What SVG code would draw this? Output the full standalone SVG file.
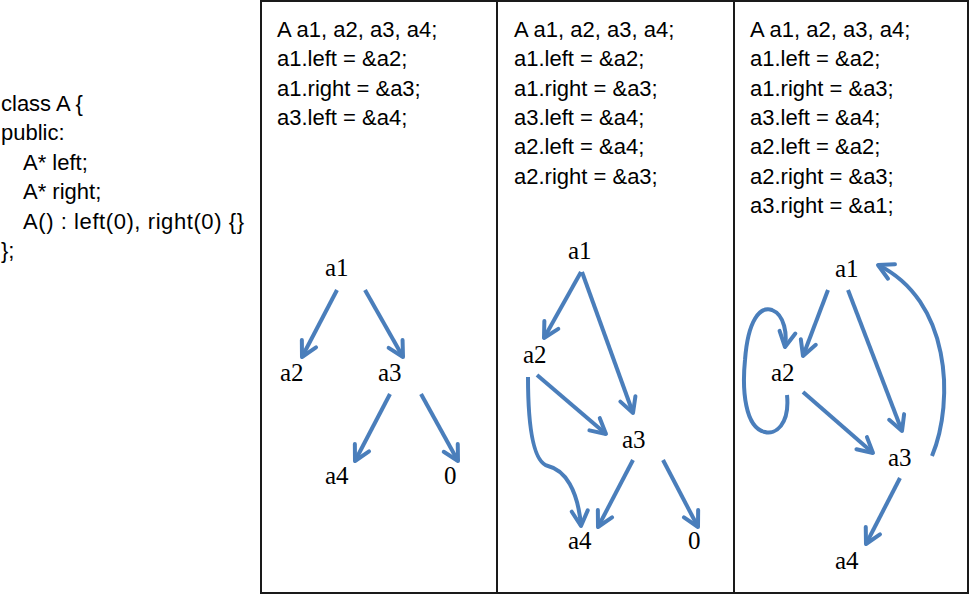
<svg xmlns="http://www.w3.org/2000/svg" width="969" height="594" viewBox="0 0 969 594">
<style>
.code{font-family:"Liberation Sans",Arial,sans-serif;font-size:22px;fill:#000}
.lbl{font-family:"Liberation Serif","Times New Roman",serif;font-size:25px;fill:#000}
.box{fill:none;stroke:#1a1a1a;stroke-width:2}
.c{fill:none;stroke:#4a7ebb;stroke-width:4;marker-end:url(#ah)}
</style>
<defs>
<marker id="ah" markerUnits="userSpaceOnUse" markerWidth="26" markerHeight="26" viewBox="-4 -4 26 26" refX="15" refY="8" orient="auto">
<path d="M0,0 L15,8 L0,16" fill="none" stroke="#4a7ebb" stroke-width="4" stroke-linejoin="round" stroke-linecap="round"/>
</marker>
</defs>
<rect width="969" height="594" fill="#fff"/>
<g id="classdef" class="code">
<text x="1" y="111">class A {</text>
<text x="1" y="140">public:</text>
<text x="23" y="170">A* left;</text>
<text x="23" y="199">A* right;</text>
<text x="23" y="229" textLength="221" lengthAdjust="spacing">A() : left(0), right(0) {}</text>
<text x="1" y="258">};</text>
</g>
<g id="panel1">
<rect class="box" x="261" y="1" width="236" height="592"/>
<g class="code">
<text x="277" y="37">A a1, a2, a3, a4;</text>
<text x="277" y="66">a1.left = &amp;a2;</text>
<text x="277" y="96">a1.right = &amp;a3;</text>
<text x="277" y="125">a3.left = &amp;a4;</text>
</g>
</g>
<g id="panel2">
<rect class="box" x="497" y="1" width="237" height="592"/>
<g class="code">
<text x="514" y="37">A a1, a2, a3, a4;</text>
<text x="514" y="66">a1.left = &amp;a2;</text>
<text x="514" y="96">a1.right = &amp;a3;</text>
<text x="514" y="125">a3.left = &amp;a4;</text>
<text x="514" y="154">a2.left = &amp;a4;</text>
<text x="514" y="184">a2.right = &amp;a3;</text>
</g>
</g>
<g id="panel3">
<rect class="box" x="734" y="1" width="234" height="592"/>
<g class="code">
<text x="750" y="37">A a1, a2, a3, a4;</text>
<text x="750" y="66">a1.left = &amp;a2;</text>
<text x="750" y="96">a1.right = &amp;a3;</text>
<text x="750" y="125">a3.left = &amp;a4;</text>
<text x="750" y="154">a2.left = &amp;a2;</text>
<text x="750" y="184">a2.right = &amp;a3;</text>
<text x="750" y="213">a3.right = &amp;a1;</text>
</g>
</g>
<g id="p1-a1" class="lbl"><text x="325" y="276">a1</text></g>
<g id="p1-a2" class="lbl"><text x="280" y="381">a2</text></g>
<g id="p1-a3" class="lbl"><text x="378" y="381">a3</text></g>
<g id="p1-a4" class="lbl"><text x="325" y="484">a4</text></g>
<g id="p1-0" class="lbl"><text x="444" y="484">0</text></g>
<g id="p2-a1" class="lbl"><text x="568" y="259">a1</text></g>
<g id="p2-a2" class="lbl"><text x="523" y="363">a2</text></g>
<g id="p2-a3" class="lbl"><text x="622" y="448">a3</text></g>
<g id="p2-a4" class="lbl"><text x="568" y="549">a4</text></g>
<g id="p2-0" class="lbl"><text x="688" y="549">0</text></g>
<g id="p3-a1" class="lbl"><text x="835" y="277">a1</text></g>
<g id="p3-a2" class="lbl"><text x="771" y="381">a2</text></g>
<g id="p3-a3" class="lbl"><text x="888" y="466">a3</text></g>
<g id="p3-a4" class="lbl"><text x="835" y="569">a4</text></g>
<g id="connectors">
<path class="c" d="M337,290 L302,357"/>
<path class="c" d="M365,290 L403,357"/>
<path class="c" d="M390,394 L355,461"/>
<path class="c" d="M421,394 L458,461"/>
<path class="c" d="M581,272 L544,338"/>
<path class="c" d="M582,272 L633,413"/>
<path class="c" d="M537,375 L606,434"/>
<path class="c" d="M528,377 C528,420 532,462 548,466 C565,470 578,490 581,526"/>
<path class="c" d="M633,460 L598,527"/>
<path class="c" d="M663,460 L698,527"/>
<path class="c" d="M828,290 L803,356"/>
<path class="c" d="M848,290 L902,431"/>
<path class="c" d="M803,392 L873,453"/>
<path class="c" d="M900,478 L866,544"/>
<path class="c" d="M932,456 C955,400 950,300 878,265"/>
<path class="c" d="M787,395 C790,425 775,435 765,432 C745,428 742,390 745,360 C748,320 760,306 772,310 C785,315 787,335 785,347"/>
</g>
</svg>
